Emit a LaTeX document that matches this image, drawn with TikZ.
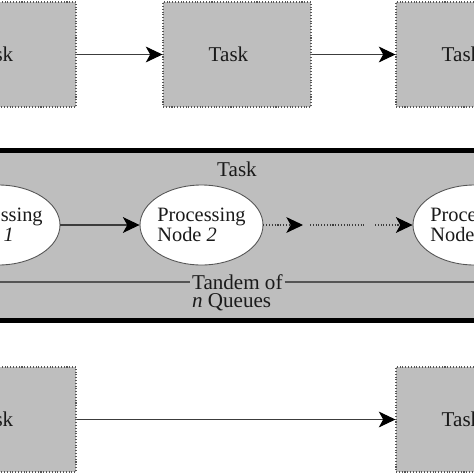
\documentclass[tikz,border=0pt]{standalone}
\usepackage{fontspec}
\setmainfont{Liberation Serif}
\usetikzlibrary{positioning,arrows.meta,shapes.geometric}
\definecolor{ink}{HTML}{1A1A1A}
\definecolor{boxgray}{HTML}{BEBEBE}
\definecolor{edge}{HTML}{555555}
\tikzset{
  flow/.style={-{Stealth[length=9.5pt,width=9pt,inset=2.5pt,color=black]}, line width=0.6pt, draw=ink!85},
  dflow/.style={flow, densely dotted},
  dline/.style={line width=0.6pt, draw=ink!85, densely dotted},
  rule/.style={line width=0.6pt, draw=edge},
  task/.style={rectangle, draw=edge, densely dotted, fill=boxgray, line width=0.6pt,
    minimum width=2.96cm, minimum height=2.1cm, inner sep=0pt, text=ink,
    font=\fontsize{12}{13}\selectfont, execute at end node=\kern0.34cm},
  proc/.style={ellipse, draw=edge, fill=white, line width=0.5pt, minimum width=2.46cm,
    minimum height=1.6cm, inner sep=-1pt, align=left, text=ink,
    font=\fontsize{11.6}{10.5}\selectfont},
  band/.style={draw=black, line width=2.9pt, fill=boxgray},
  lbl/.style={font=\fontsize{12}{13}\selectfont, text=ink, inner sep=1pt},
}
\begin{document}
\begin{tikzpicture}[x=0.02cm,y=-0.02cm]
  \clip (0,0) rectangle (474,474);
  % upper chain of tasks
  \node[task] (t1) at (2,54.5) {Task};
  \node[task] (t2) at (237,54.5) {Task};
  \node[task] (t3) at (470,54.5) {Task};
  \draw[flow] (t1) -- (t2);
  \draw[flow] (t2) -- (t3);
  % the task opened up: a tandem of n queues
  \draw[band] (-10,150.8) rectangle (484,320.8);
  \node[lbl] (tasklbl) at (237,169) {Task};
  \node[proc] (p1) at (-1.5,225) {Processing\\Node \textit{1}};
  \node[proc] (p2) at (201.5,225) {Processing\\Node \textit{2}};
  \node[proc] (pn) at (474.5,225) {Processing\\Node \textit{n}};
  \coordinate (d1) at (303,225);
  \coordinate (d2) at (310,225);
  \coordinate (d3) at (365,225);
  \coordinate (d4) at (375,225);
  \draw[flow] (p1) -- (p2);
  \draw[dflow] (p2) -- (d1);
  \draw[dline] (d2) -- (d3);
  \draw[dflow] (d4) -- (pn);
  \node[lbl, anchor=west] (tandem) at (190,282) {Tandem of};
  \node[lbl, below=0pt of tandem.south west, anchor=north west] (queues) {\textit{n} Queues};
  \coordinate (tl) at (-10,282);
  \coordinate (tr) at (484,282);
  \draw[rule] (tl) -- (tandem.west);
  \draw[rule] (tandem.east) -- (tr);
  % lower chain of tasks
  \node[task] (b1) at (2,419.5) {Task};
  \node[task] (b2) at (470,419.5) {Task};
  \draw[flow] (b1) -- (b2);
\end{tikzpicture}
\end{document}
